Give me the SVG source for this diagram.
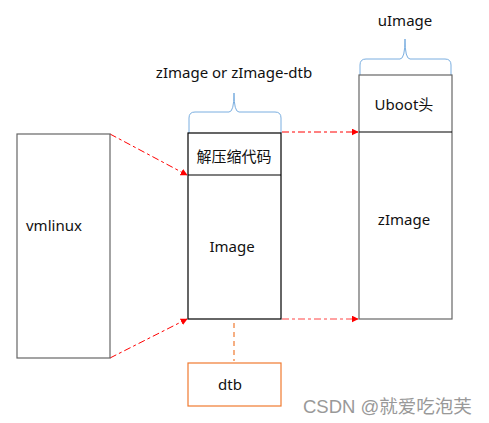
<svg xmlns="http://www.w3.org/2000/svg" width="489" height="423" viewBox="0 0 489 423">
<defs>
<style>
.box{fill:#fff;stroke:#000;stroke-width:1.2}
.gbox{fill:#fff;stroke:#666;stroke-width:1.2}
.t{font-family:"Noto Sans","Noto Sans CJK SC",sans-serif;font-size:15px;fill:#111}
.brace{fill:none;stroke:#7aaee0;stroke-width:1}
.arr{fill:none;stroke:#f00;stroke-width:1;stroke-dasharray:7 3 3 3}
.arr2{fill:none;stroke:#f44;stroke-width:1;stroke-dasharray:7 3 3 3}
</style>
<marker id="ah" viewBox="0 0 10 10" refX="9" refY="5" markerWidth="7" markerHeight="7" orient="auto" markerUnits="userSpaceOnUse">
<path d="M0,0 L10,5 L0,10 z" fill="#f00"/>
</marker>
</defs>
<rect width="489" height="423" fill="#fff"/>
<g id="connectors">
<path class="arr" d="M110,134 L187,175" marker-end="url(#ah)"/>
<path class="arr" d="M110,358 L187,319" marker-end="url(#ah)"/>
<path class="arr" d="M282,132 L358,132" marker-end="url(#ah)"/>
<path class="arr2" d="M282,319 L358,319" marker-end="url(#ah)"/>
<path d="M234,323 L234,361" fill="none" stroke="#f07a30" stroke-width="1.2" stroke-dasharray="5 4"/>
</g>
<g id="vmlinux">
<rect class="gbox" x="17" y="134" width="93" height="224"/>
<text class="t" x="26" y="231">vmlinux</text>
</g>
<g id="zimage-dtb">
<path class="brace" d="M189,133 L189,118 Q189,112 195,112 L229,112 Q234,112 234,93 Q234,112 239,112 L275,112 Q281,112 281,118 L281,133"/>
<text class="t" x="234" y="78" text-anchor="middle">zImage or zImage-dtb</text>
<rect class="box" x="188" y="133" width="93" height="186"/>
<line x1="188" y1="175" x2="281" y2="175" stroke="#000" stroke-width="1.2"/>
<text class="t" x="234" y="162" text-anchor="middle">解压缩代码</text>
<text class="t" x="232" y="252" text-anchor="middle">Image</text>
</g>
<g id="uimage">
<path class="brace" d="M360,75 L360,65 Q360,59 366,59 L400,59 Q405,59 405,39 Q405,59 410,59 L445,59 Q451,59 451,65 L451,75"/>
<text class="t" x="405" y="26" text-anchor="middle">uImage</text>
<rect class="gbox" x="359" y="75" width="93" height="244"/>
<line x1="359" y1="132" x2="452" y2="132" stroke="#000" stroke-width="1.2"/>
<text class="t" x="404" y="110" text-anchor="middle">Uboot头</text>
<text class="t" x="404" y="225" text-anchor="middle">zImage</text>
</g>
<g id="dtb">
<rect x="188" y="363" width="93" height="43" fill="#fff" stroke="#f07a30" stroke-width="1.2"/>
<text class="t" x="230" y="390" text-anchor="middle">dtb</text>
</g>
<text x="303" y="413" font-family="'Liberation Sans','Noto Sans CJK SC',sans-serif" font-size="18.5" fill="#999">CSDN @就爱吃泡芙</text>
</svg>
